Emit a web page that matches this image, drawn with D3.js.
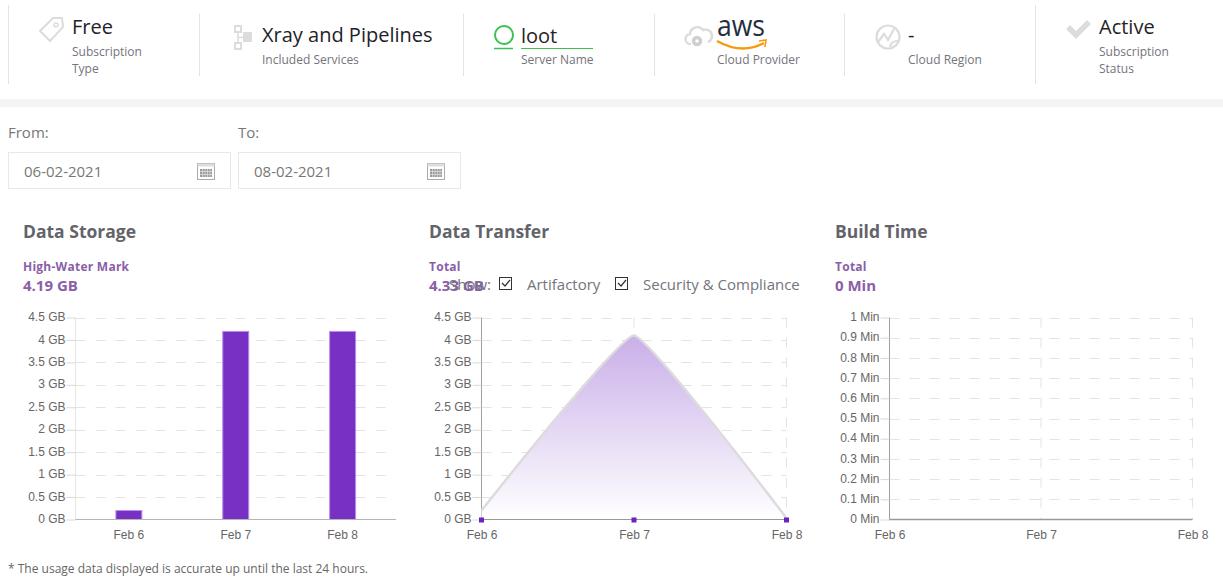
<!DOCTYPE html>
<html>
<head>
<meta charset="utf-8">
<script src="https://cdn.jsdelivr.net/npm/d3@7"></script>
<style>
  html, body { margin: 0; padding: 0; background: #fff; overflow: hidden; }
  svg { display: block; }
  text { font-family: "Open Sans", sans-serif; }
  .axis text { font-family: "Liberation Sans", Arial, sans-serif; font-size: 12px; fill: #666; }
</style>
</head>
<body>
<svg id="page" width="1223" height="582"></svg>
<script>
const days = ['Feb 6', 'Feb 7', 'Feb 8'];
const storageValues = [0.2, 4.19, 4.19];
const transferValues = [0.2, 4.1, 0.03];
const transferMarkers = [0, 0, 0];
const buildValues = [0, 0, 0];
const gbTicks = [0, 0.5, 1, 1.5, 2, 2.5, 3, 3.5, 4, 4.5];
const minTicks = [0, 0.1, 0.2, 0.3, 0.4, 0.5, 0.6, 0.7, 0.8, 0.9, 1];

const headerMain = ['Free', 'Xray and Pipelines', 'loot', '-', 'Active'];
const dividers = [[8, 5, 84], [199, 14, 76], [463, 14, 76], [654, 14, 76], [844, 14, 76], [1035, 5, 84]];

const svg = d3.select('#page');

const label = (x, y, str, size, color, weight) =>
  svg.append('text')
    .attr('x', x).attr('y', y)
    .attr('font-size', size)
    .attr('font-weight', weight || 400)
    .attr('fill', color)
    .text(str);

// header strip
svg.selectAll('line.div')
  .data(dividers)
  .join('line')
  .attr('class', 'div')
  .attr('x1', (d) => d[0] + 0.5)
  .attr('x2', (d) => d[0] + 0.5)
  .attr('y1', (d) => d[1])
  .attr('y2', (d) => d[2])
  .attr('stroke', '#e3e3e3');

svg.append('rect')
  .attr('x', 0).attr('y', 99).attr('width', 1223).attr('height', 8)
  .attr('fill', '#f4f4f4');

const dark = '#1f2328';
const sub = '#74747c';
label(72, 34, headerMain[0], 20, dark);
label(72, 56, 'Subscription', 12, sub);
label(72, 73, 'Type', 12, sub);
label(262, 42, headerMain[1], 20, dark);
label(262, 64, 'Included Services', 12, sub);
label(521, 43, headerMain[2], 20, dark);
label(521, 64, 'Server Name', 12, sub);
label(717, 64, 'Cloud Provider', 12, sub);
label(908, 42, headerMain[3], 20, dark);
label(908, 64, 'Cloud Region', 12, sub);
label(1099, 34, headerMain[4], 20, dark);
label(1099, 56, 'Subscription', 12, sub);
label(1099, 73, 'Status', 12, sub);

// header icons
const iconGrey = '#dcdcdc';
svg.append('path')
  .attr('d', 'M40 31 L53 18 L62 18 L63 27 L50 41 Z')
  .attr('fill', 'none').attr('stroke', iconGrey).attr('stroke-width', 2);
svg.append('circle').attr('cx', 56).attr('cy', 25).attr('r', 2)
  .attr('fill', 'none').attr('stroke', iconGrey).attr('stroke-width', 1.5);

svg.append('rect').attr('x', 235).attr('y', 26).attr('width', 6).attr('height', 6)
  .attr('fill', 'none').attr('stroke', iconGrey).attr('stroke-width', 2);
svg.append('rect').attr('x', 235).attr('y', 43).attr('width', 6).attr('height', 6)
  .attr('fill', 'none').attr('stroke', iconGrey).attr('stroke-width', 2);
svg.append('rect').attr('x', 243).attr('y', 32).attr('width', 9).attr('height', 10).attr('fill', iconGrey);
svg.append('path').attr('d', 'M238 33 V42 M238 37.5 H243')
  .attr('fill', 'none').attr('stroke', iconGrey).attr('stroke-width', 1.5);

svg.append('circle').attr('cx', 504).attr('cy', 35).attr('r', 9)
  .attr('fill', 'none').attr('stroke', '#3dc04f').attr('stroke-width', 2);
svg.append('line').attr('x1', 494).attr('x2', 513).attr('y1', 48.5).attr('y2', 48.5)
  .attr('stroke', '#3dc04f').attr('stroke-width', 1.5);
svg.append('line').attr('x1', 521).attr('x2', 593).attr('y1', 48.5).attr('y2', 48.5)
  .attr('stroke', '#3dc04f').attr('stroke-width', 1);

// cloud with a gear
svg.append('path')
  .attr('d', 'M691 44 a5 5 0 0 1 -1 -10 a7 7 0 0 1 4 -6 a7 7 0 0 1 9 2 a6.5 6.5 0 0 1 5 12')
  .attr('fill', 'none').attr('stroke', iconGrey).attr('stroke-width', 2.5);
svg.append('circle').attr('cx', 697).attr('cy', 41).attr('r', 3.5)
  .attr('fill', 'none').attr('stroke', '#cfcfcf').attr('stroke-width', 3.5);

label(717, 36, 'aws', 29, '#232f3e', 500)
  .attr('textLength', 48).attr('lengthAdjust', 'spacingAndGlyphs');
svg.append('path')
  .attr('d', 'M717 41 Q742 55 764 43')
  .attr('fill', 'none').attr('stroke', '#f79a0e').attr('stroke-width', 2.4);
svg.append('path')
  .attr('d', 'M759 41 L766 40 L765 47')
  .attr('fill', 'none').attr('stroke', '#f79a0e').attr('stroke-width', 1.6);

svg.append('circle').attr('cx', 888).attr('cy', 37).attr('r', 11.5)
  .attr('fill', 'none').attr('stroke', iconGrey).attr('stroke-width', 2.2);
svg.append('path')
  .attr('d', 'M878 42 L884 34 L888 40 L894 29 M890 47 Q891 41 898 41')
  .attr('fill', 'none').attr('stroke', iconGrey).attr('stroke-width', 2.2);

svg.append('path')
  .attr('d', 'M1068 27 L1076 35 L1089 22')
  .attr('fill', 'none').attr('stroke', iconGrey).attr('stroke-width', 5.5);

// date pickers
const labelGrey = '#777';
label(8, 138, 'From:', 15, labelGrey);
label(238, 138, 'To:', 15, labelGrey);

const pickers = [[8, 223, '06-02-2021'], [238, 223, '08-02-2021']];
pickers.forEach(([x, w, str]) => {
  svg.append('rect')
    .attr('x', x + 0.5).attr('y', 152.5).attr('width', w - 1).attr('height', 36)
    .attr('fill', '#fff').attr('stroke', '#e8e8e8');
  label(x + 16, 177, str, 15, labelGrey);
  const cal = svg.append('g').attr('transform', `translate(${x + 189},162)`);
  cal.append('rect').attr('x', 0.5).attr('y', 1.5).attr('width', 17).attr('height', 16)
    .attr('fill', '#fff').attr('stroke', '#aaa');
  cal.append('rect').attr('x', 0.5).attr('y', 1.5).attr('width', 17).attr('height', 3).attr('fill', '#ddd');
  cal.append('rect').attr('x', 3).attr('y', 7).attr('width', 12).attr('height', 8).attr('fill', '#9a9a9a');
  d3.range(4).forEach((i) => cal.append('line')
    .attr('x1', 5.5 + i * 2.5).attr('x2', 5.5 + i * 2.5).attr('y1', 7).attr('y2', 15)
    .attr('stroke', '#eee').attr('stroke-width', 0.6));
  [9.5, 12.5].forEach((y) => cal.append('line')
    .attr('x1', 3).attr('x2', 15).attr('y1', y).attr('y2', y)
    .attr('stroke', '#eee').attr('stroke-width', 0.6));
});

// panel titles
const titleGrey = '#63636a';
const purple = '#8a5ea8';
[[23, 'Data Storage', 'High-Water Mark', '4.19 GB'],
 [429, 'Data Transfer', 'Total', '4.33 GB'],
 [835, 'Build Time', 'Total', '0 Min']].forEach(([x, title, small, big]) => {
  label(x, 238, title, 17.5, titleGrey, 700);
  label(x, 271, small, 12, purple, 700).attr('letter-spacing', 0.25);
  label(x, 291, big, 15, purple, 700);
});

// show toggles (overlaps the total on purpose, same as the page)
label(449, 290, 'Show:', 15, '#74747c');
label(527, 290, 'Artifactory', 15, '#74747c');
label(643, 290, 'Security & Compliance', 15, '#74747c');
[499, 615].forEach((x) => {
  svg.append('rect').attr('x', x + 0.5).attr('y', 277.5).attr('width', 12).attr('height', 12)
    .attr('fill', '#fff').attr('stroke', '#333');
  svg.append('path').attr('d', `M${x + 3} ${283} l3 3 l5 -6`)
    .attr('fill', 'none').attr('stroke', '#333').attr('stroke-width', 1.2);
});

label(8, 573, '* The usage data displayed is accurate up until the last 24 hours.', 12, '#666');

// charts
const top_ = 317.5;
const bottom = 519.5;

const grid = (g, yScale, ticks, x0, x1) => {
  g.append('g').selectAll('line')
    .data(ticks.slice(1))
    .join('line')
    .attr('x1', x0).attr('x2', x1)
    .attr('y1', (d) => Math.round(yScale(d)) + 0.5)
    .attr('y2', (d) => Math.round(yScale(d)) + 0.5)
    .attr('stroke', '#e3e3e3')
    .attr('stroke-dasharray', '10,10');
};

const yAxis = (g, yScale, ticks, unit, x0, color) => {
  const a = g.append('g')
    .attr('class', 'axis')
    .attr('transform', `translate(${x0},0)`)
    .call(d3.axisLeft(yScale).tickValues(ticks).tickSize(9).tickPadding(1)
      .tickFormat((d) => `${d} ${unit}`));
  a.select('.domain').attr('stroke', color).attr('d', `M0,${top_}V${bottom}`);
  a.selectAll('line').attr('stroke', '#d8d8d8');
  a.selectAll('text').attr('dy', '0.26em');
};

const xAxis = (g, xScale) => {
  const a = g.append('g')
    .attr('class', 'axis')
    .attr('transform', `translate(0,${bottom})`)
    .call(d3.axisBottom(xScale).tickSize(0).tickPadding(11));
  a.select('.domain').remove();
  a.selectAll('text').attr('dy', '0.71em');
  return a;
};

// Data Storage
{
  const x0 = 75.5, x1 = 396;
  const g = svg.append('g');
  const y = d3.scaleLinear().domain([0, 4.5]).range([bottom, top_]);
  const x = d3.scaleBand().domain(days).range([x0, x1]).paddingInner(0.757).paddingOuter(0.378);
  grid(g, y, gbTicks, x0, x1);
  yAxis(g, y, gbTicks, 'GB', x0, '#e6e6e6');
  g.selectAll('rect.bar')
    .data(storageValues)
    .join('rect')
    .attr('class', 'bar')
    .attr('x', (d, i) => x(days[i]))
    .attr('width', x.bandwidth())
    .attr('y', (d) => y(d))
    .attr('height', (d) => y(0) - y(d))
    .attr('fill', '#7730c3')
    .attr('stroke', '#b78fe4')
    .attr('stroke-width', 1);
  xAxis(g, x);
  g.append('line').attr('x1', x0).attr('x2', x1)
    .attr('y1', bottom).attr('y2', bottom).attr('stroke', '#b5b5b5');
}

const vGrid = (g, x) => {
  g.append('g').selectAll('line')
    .data(days.slice(1))
    .join('line')
    .attr('x1', (d) => x(d)).attr('x2', (d) => x(d))
    .attr('y1', top_).attr('y2', bottom)
    .attr('stroke', '#e3e3e3')
    .attr('stroke-dasharray', '10,10');
};

// Data Transfer
{
  const x0 = 481.5, x1 = 786.5;
  const g = svg.append('g');
  const y = d3.scaleLinear().domain([0, 4.5]).range([bottom, top_]);
  const x = d3.scalePoint().domain(days).range([x0, x1]);
  grid(g, y, gbTicks, x0, x1);
  vGrid(g, x);
  yAxis(g, y, gbTicks, 'GB', x0, '#a0a0a0');

  const grad = svg.append('defs').append('linearGradient')
    .attr('id', 'transferFill')
    .attr('gradientUnits', 'userSpaceOnUse')
    .attr('x1', 0).attr('x2', 0)
    .attr('y1', y(4.1)).attr('y2', bottom);
  grad.append('stop').attr('offset', 0).attr('stop-color', '#c9afe8');
  grad.append('stop').attr('offset', 1).attr('stop-color', '#ffffff');

  const curve = d3.curveCardinal.tension(0.72);
  const area = d3.area()
    .x((d, i) => x(days[i]))
    .y0(bottom)
    .y1((d) => y(d))
    .curve(curve);
  const line = d3.line()
    .x((d, i) => x(days[i]))
    .y((d) => y(d))
    .curve(curve);
  g.append('path').attr('d', area(transferValues)).attr('fill', 'url(#transferFill)');
  g.append('path').attr('d', line(transferValues))
    .attr('fill', 'none').attr('stroke', '#dddbdd').attr('stroke-width', 2.5);
  g.append('line').attr('x1', x0).attr('x2', x1)
    .attr('y1', bottom).attr('y2', bottom).attr('stroke', '#999').attr('stroke-width', 1);
  g.selectAll('rect.pt')
    .data(transferMarkers)
    .join('rect')
    .attr('class', 'pt')
    .attr('x', (d, i) => x(days[i]) - 2.5)
    .attr('y', (d) => y(d) - 2)
    .attr('width', 5).attr('height', 5)
    .attr('fill', '#6b24bb');
  xAxis(g, x);
}

// Build Time
{
  const x0 = 889.5, x1 = 1192.5;
  const g = svg.append('g');
  const y = d3.scaleLinear().domain([0, 1]).range([bottom, top_]);
  const x = d3.scalePoint().domain(days).range([x0, x1]);
  grid(g, y, minTicks, x0, x1);
  vGrid(g, x);
  yAxis(g, y, minTicks, 'Min', x0, '#a0a0a0');
  const line = d3.line()
    .x((d, i) => x(days[i]))
    .y((d) => y(d));
  g.append('path').attr('d', line(buildValues))
    .attr('fill', 'none').attr('stroke', '#999').attr('stroke-width', 1.5);
  xAxis(g, x);
}
</script>
</body>
</html>
